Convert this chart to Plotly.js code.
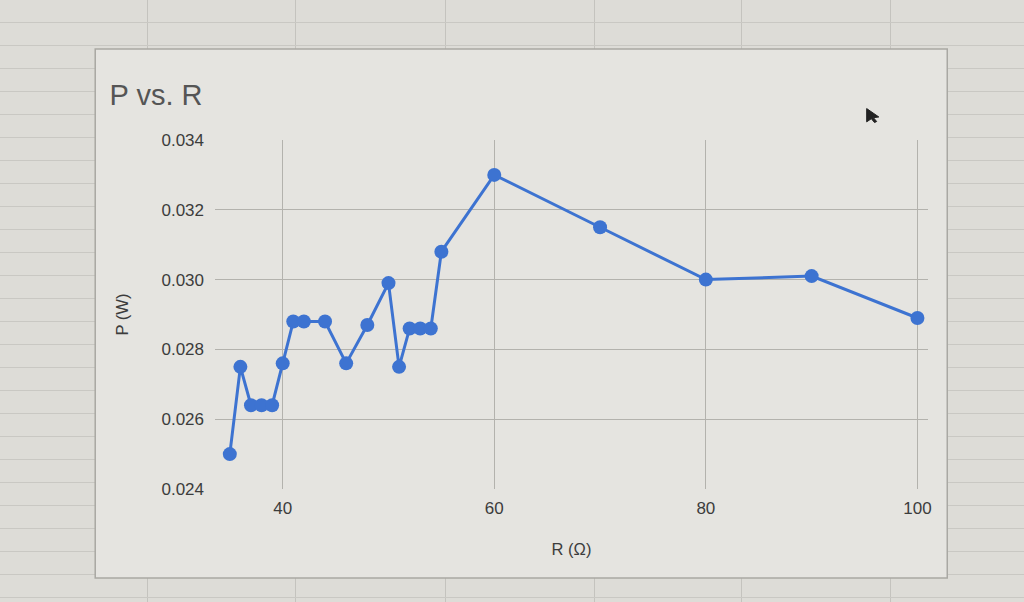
<!DOCTYPE html>
<html><head><meta charset="utf-8">
<script src="https://cdn.plot.ly/plotly-3.0.1.min.js"></script>
<style>
html,body{margin:0;padding:0;width:1024px;height:602px;overflow:hidden;}
body{background-color:#dddcd7;
background-image:
 repeating-linear-gradient(to bottom, transparent 0px, transparent 22px, #c9c8c3 22px, #c9c8c3 23px),
 linear-gradient(to right, transparent 147px, #c4c3be 147px, #c4c3be 148px, transparent 148px, transparent 295px, #c4c3be 295px, #c4c3be 296px, transparent 296px, transparent 445px, #c4c3be 445px, #c4c3be 446px, transparent 446px, transparent 594px, #c4c3be 594px, #c4c3be 595px, transparent 595px, transparent 741px, #c4c3be 741px, #c4c3be 742px, transparent 742px, transparent 890px, #c4c3be 890px, #c4c3be 891px, transparent 891px);}
#chart{position:absolute;left:0;top:0;width:1024px;height:602px;}
</style></head><body>
<div id="chart"></div>
<script>
const R = [35,36,37,38,39,40,41,42,44,46,48,50,51,52,53,54,55,60,70,80,90,100];
const P = [0.0250,0.0275,0.0264,0.0264,0.0264,0.0276,0.0288,0.0288,0.0288,0.0276,0.0287,0.0299,0.0275,0.0286,0.0286,0.0286,0.0308,0.0330,0.0315,0.0300,0.0301,0.0289];
const xTicks = [40,60,80,100];
const yTicks = [0.024,0.026,0.028,0.030,0.032,0.034];
const yTickText = ['0.024','0.026','0.028','0.030','0.032','0.034'];

const trace = {
  x: R, y: P, type:'scatter', mode:'lines+markers',
  line:{color:'#3d73d1', width:3},
  marker:{color:'#3d73d1', size:14},
  showlegend:false, hoverinfo:'none'
};
const font = {family:'"Liberation Sans", Arial, sans-serif', color:'#3c3c3c'};
const layout = {
  width:1024, height:602,
  margin:{l:215, r:96, t:140, b:113, pad:0},
  paper_bgcolor:'rgba(0,0,0,0)', plot_bgcolor:'rgba(0,0,0,0)',
  font: font,
  title:{text:'P vs. R', x:0.107, xanchor:'left', y:0.842, yanchor:'middle',
         font:{family:font.family, size:29, color:'#555555'}},
  xaxis:{range:[33.6,101], tickvals:xTicks, ticktext:xTicks.map(String),
         showgrid:true, gridcolor:'#b3b2ad', gridwidth:1, zeroline:false,
         showline:false, ticks:'', tickfont:{size:17, color:'#3c3c3c'},
         ticklabelstandoff:7,
         title:{text:'R (Ω)', font:{size:16.5, color:'#3c3c3c'}, standoff:26}},
  yaxis:{range:[0.024,0.034], tickvals:yTicks, ticktext:yTickText,
         showgrid:true, gridcolor:'#b3b2ad', gridwidth:1, zeroline:false,
         showline:false, ticks:'', tickfont:{size:17, color:'#3c3c3c'},
         ticklabelstandoff:10,
         title:{text:'P (W)', font:{size:16.5, color:'#3c3c3c'}, standoff:28}},
  shapes:[
    {type:'rect', xref:'paper', yref:'paper', x0:-0.168, x1:1.027, y0:-0.255, y1:1.261,
     fillcolor:'#e5e4e0', line:{color:'#a9a8a3', width:1.5}, layer:'below'},
    {type:'path', xref:'paper', yref:'paper',
     path:'M 0.914 1.090 L 0.914 1.052 L 0.9205 1.061 L 0.925 1.050 L 0.928 1.053 L 0.9235 1.064 L 0.931 1.066 Z',
     fillcolor:'#222222', line:{color:'#222222', width:1}}
  ]
};
Plotly.newPlot('chart',[trace],layout,{staticPlot:true, displayModeBar:false});
</script>
</body></html>
